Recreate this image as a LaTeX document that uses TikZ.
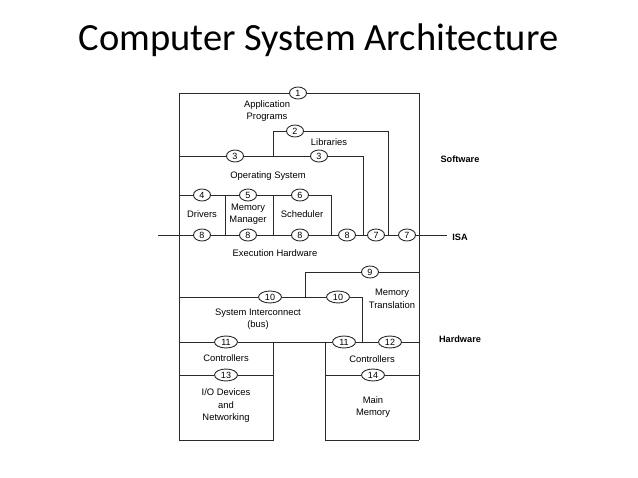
\documentclass[tikz,border=0pt]{standalone}
\usepackage{fontspec}
\setmainfont{Liberation Sans}
\newfontfamily\titlefont{Carlito}
\usetikzlibrary{shapes.geometric}
\definecolor{ink}{HTML}{2A2A2A}
\tikzset{
  wire/.style={draw=ink, line width=0.9pt},
  tag/.style={draw=ink, line width=0.9pt, ellipse, fill=white, inner sep=0pt,
    minimum width=17pt, minimum height=12pt, font=\fontsize{9}{9}\selectfont},
  wtag/.style={tag, minimum width=23pt},
  lbl/.style={align=center, text=black, font=\fontsize{9.4}{12.5}\selectfont, inner sep=0pt},
  side/.style={lbl, font=\bfseries\fontsize{9.2}{11}\selectfont},
}
\begin{document}
\begin{tikzpicture}[x=1pt, y=-1pt]
\useasboundingbox (0,0) rectangle (638,478);
\node[font=\titlefont\fontsize{38.5}{40}\selectfont, anchor=base, inner sep=0pt] (title) at (318.5,51) {Computer System Architecture};

% corner / junction coordinates
\coordinate (tl) at (179,93);  \coordinate (tr) at (419,93);
\coordinate (bl) at (179,440); \coordinate (br) at (419,440);
\coordinate (a2) at (273,131); \coordinate (b2) at (388,131); \coordinate (b2d) at (388,235);
\coordinate (l3) at (179,156); \coordinate (j3) at (273,156); \coordinate (r3) at (363,156); \coordinate (r3d) at (363,235);
\coordinate (l4) at (179,195); \coordinate (j4a) at (225,195); \coordinate (j4b) at (273,195);
\coordinate (r4) at (331,195); \coordinate (r4d) at (331,235);
\coordinate (j8a) at (225,235); \coordinate (j8b) at (273,235);
\coordinate (isaL) at (158,235); \coordinate (isaR) at (447,235);
\coordinate (l9) at (305,272); \coordinate (r9) at (419,272); \coordinate (l9d) at (305,297);
\coordinate (l10) at (179,297); \coordinate (r10) at (362,297); \coordinate (r10d) at (362,342);
\coordinate (l11) at (179,342); \coordinate (r11) at (419,342);
\coordinate (j11a) at (273,342); \coordinate (j11b) at (325,342);
\coordinate (l13) at (179,375); \coordinate (r13) at (273,375);
\coordinate (l14) at (325,375); \coordinate (r14) at (419,375);
\coordinate (b13) at (273,440); \coordinate (b14) at (325,440);

% interface tags
\node[tag] (c1) at (298,93) {1};
\node[tag] (c2) at (295,131) {2};
\node[tag] (c3a) at (235,156) {3};
\node[tag] (c3b) at (319,156) {3};
\node[tag] (c4) at (202,195) {4};
\node[tag] (c5) at (248,195) {5};
\node[tag] (c6) at (300,195) {6};
\node[tag] (c8a) at (202,235) {8};
\node[tag] (c8b) at (248,235) {8};
\node[tag] (c8c) at (300,235) {8};
\node[tag] (c8d) at (347,235) {8};
\node[tag] (c7a) at (376,235) {7};
\node[tag] (c7b) at (407,235) {7};
\node[tag] (c9) at (370,272) {9};
\node[wtag] (c10a) at (270,297) {10};
\node[wtag] (c10b) at (338,297) {10};
\node[wtag] (c11a) at (226,342) {11};
\node[wtag] (c11b) at (344,342) {11};
\node[wtag] (c12) at (390,342) {12};
\node[wtag] (c13) at (226,375) {13};
\node[wtag] (c14) at (373,375) {14};

% wires
\draw[wire] (tl) -- (c1) -- (tr) -- (br);
\draw[wire] (tl) -- (bl);
\draw[wire] (a2) -- (c2) -- (b2) -- (b2d);
\draw[wire] (a2) -- (j3);
\draw[wire] (l3) -- (c3a) -- (c3b) -- (r3) -- (r3d);
\draw[wire] (l4) -- (c4) -- (c5) -- (c6) -- (r4) -- (r4d);
\draw[wire] (j4a) -- (j8a);
\draw[wire] (j4b) -- (j8b);
\draw[wire] (isaL) -- (c8a) -- (c8b) -- (c8c) -- (c8d) -- (c7a) -- (c7b) -- (isaR);
\draw[wire] (l9d) -- (l9) -- (c9) -- (r9);
\draw[wire] (l10) -- (c10a) -- (c10b) -- (r10) -- (r10d);
\draw[wire] (l11) -- (c11a) -- (c11b) -- (c12) -- (r11);
\draw[wire] (j11a) -- (b13) -- (bl);
\draw[wire] (j11b) -- (b14) -- (br);
\draw[wire] (l13) -- (c13) -- (r13);
\draw[wire] (l14) -- (c14) -- (r14);

% labels
\node[lbl] (tApp) at (267,111) {Application\\Programs};
\node[lbl] (tLib) at (329,142) {Libraries};
\node[lbl] (tOS) at (268,176) {Operating System};
\node[lbl] (tDrv) at (202,214) {Drivers};
\node[lbl] (tMM) at (248,214) {Memory\\Manager};
\node[lbl] (tSch) at (302,214) {Scheduler};
\node[lbl] (tEH) at (275,253) {Execution Hardware};
\node[lbl] (tMT) at (392,299) {Memory\\Translation};
\node[lbl] (tSI) at (258,319) {System Interconnect\\(bus)};
\node[lbl] (tC1) at (226,358) {Controllers};
\node[lbl] (tC2) at (372,359) {Controllers};
\node[lbl] (tIO) at (226,406) {I/O Devices\\and\\Networking};
\node[lbl] (tMain) at (373,407) {Main\\Memory};
\node[side] (sSw) at (460,159) {Software};
\node[side] (sIsa) at (460,237) {ISA};
\node[side] (sHw) at (460,339) {Hardware};
\end{tikzpicture}
\end{document}
